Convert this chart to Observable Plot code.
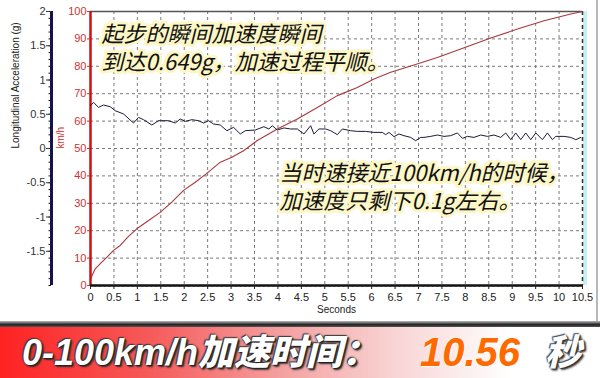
<!DOCTYPE html>
<html><head><meta charset="utf-8">
<script src="https://cdn.jsdelivr.net/npm/d3@7"></script>
<script src="https://cdn.jsdelivr.net/npm/@observablehq/plot@0.6"></script>
<style>
body{margin:0;background:#fff;}
#wrap{position:relative;width:600px;height:378px;overflow:hidden;background:#fff;}
#chart{position:absolute;left:0;top:0;width:600px;height:326px;}
#chart svg{position:absolute;left:0;top:0;}
#rightedge{position:absolute;left:596px;top:0;width:2px;height:324px;background:#b8b8b8;}
#edge{position:absolute;left:0;top:321px;width:600px;height:6px;background:linear-gradient(#bbb,#222 60%,#555);}
#banner{position:absolute;left:0;top:327px;width:600px;height:51px;
 background:linear-gradient(to right,#ff2222 0%,#f65a5a 25%,#f49a9a 45%,#f8d2d2 65%,#ffffff 85%);
 font-family:"Liberation Sans","Noto Sans CJK SC",sans-serif;font-weight:900;font-style:italic;
 line-height:51px;white-space:nowrap;}
#banner .a{position:absolute;left:22px;top:0;font-size:36px;color:#fff;
 text-shadow:0 0 2px #222,1px 1px 1px #222,-1px -1px 1px #444,2px 2px 2px #333;}
#banner .b{position:absolute;left:420px;top:0;font-size:40px;color:#ff6a00;
 text-shadow:0 0 2px #fff,1px 1px 1px #fff;}
#banner .c{position:absolute;left:545px;top:0;font-size:36px;color:#fff;
 text-shadow:0 0 2px #333,1px 1px 1px #333,-1px -1px 1px #555,2px 2px 2px #444;}
</style></head>
<body>
<div id="wrap">
 <div id="chart"></div>
 <div id="rightedge"></div>
 <div id="edge"></div>
 <div id="banner"><span class="a">0-100km/h加速时间：</span><span class="b">10.56</span><span class="c">秒</span></div>
</div>
<script>
// ---- data ----
const accTime = [0,0.064,0.171,0.278,0.421,0.527,0.705,0.918,1.025,1.132,1.309,1.452,1.666,1.809,1.915,2.022,2.163,2.306,2.413,2.519,2.626,2.770,2.911,3.054,3.197,3.303,3.517,3.701,3.807,3.880,3.987,4.128,4.271,4.414,4.555,4.698,4.768,4.875,5.018,5.125,5.268,5.375,5.552,5.695,5.872,6.050,6.229,6.299,6.370,6.477,6.583,6.690,6.833,6.940,7.047,7.117,7.260,7.403,7.544,7.687,7.830,7.937,8.044,8.185,8.328,8.471,8.612,8.755,8.862,8.969,9.075,9.182,9.289,9.396,9.503,9.645,9.752,9.859,9.930,10.107,10.250,10.357,10.463];
const accG = [0.625,0.673,0.600,0.635,0.610,0.552,0.504,0.372,0.454,0.421,0.343,0.406,0.406,0.372,0.431,0.396,0.421,0.406,0.372,0.406,0.358,0.343,0.260,0.308,0.212,0.260,0.270,0.318,0.285,0.333,0.270,0.300,0.285,0.285,0.212,0.333,0.212,0.285,0.285,0.260,0.202,0.285,0.260,0.250,0.250,0.235,0.235,0.202,0.235,0.173,0.212,0.187,0.162,0.114,0.162,0.162,0.177,0.197,0.177,0.187,0.227,0.148,0.177,0.162,0.197,0.177,0.197,0.162,0.227,0.129,0.227,0.129,0.227,0.129,0.227,0.129,0.227,0.129,0.177,0.177,0.162,0.129,0.162];
const spdTime = [0,0.100,0.241,0.348,0.491,0.634,0.811,0.989,1.239,1.488,1.736,1.986,2.236,2.483,2.770,3.017,3.267,3.560,3.987,4.414,4.841,5.268,5.695,6.050,6.406,6.904,7.403,7.901,8.542,9.112,9.680,10.250,10.500];
const spdKmh = [2.4,6.1,8.5,10.3,12.8,14.6,17.9,20.7,23.7,26.7,30.4,34.7,37.7,40.9,45.0,46.8,49.2,52.9,57.1,60.8,65.0,69.3,72.3,75.4,77.8,80.5,83.2,86.3,90.3,93.6,96.6,99.1,100];
const xTicks = [0,0.5,1,1.5,2,2.5,3,3.5,4,4.5,5,5.5,6,6.5,7,7.5,8,8.5,9,9.5,10,10.5];
const speedTicks = [0,10,20,30,40,50,60,70,80,90,100];
const accTicks = [2,1.5,1,0.5,0,-0.5,-1,-1.5];
const note1 = "起步的瞬间加速度瞬间\n到达0.649g，加速过程平顺。";
const note2 = "当时速接近100km/h的时候，\n加速度只剩下0.1g左右。";
const accLabel = "Longitudinal Acceleration (g)";
const speedLabel = "km/h";
const xLabel = "Seconds";

const acc = accTime.map((t,i)=>({t, g:accG[i]}));
const speed = spdTime.map((t,i)=>({t, v:spdKmh[i]}));
const gridT = xTicks.filter(d=>d>0 && d<10.5);
const gridV = speedTicks.filter(d=>d>0 && d<100);
const minorAcc = d3.range(-2,2.0001,0.1).map(d=>+d.toFixed(1));
const minorT = d3.range(0,10.5001,0.1).map(d=>+d.toFixed(1));
const fmt = d => String(d);

const font = "'Liberation Sans', Arial, sans-serif";
const common = {width:600,height:326,marginLeft:90,marginRight:18,marginTop:11,marginBottom:41};

const speedPlot = Plot.plot({
  ...common,
  x:{domain:[0,10.5]},
  style:{background:"transparent",fontFamily:font,fontSize:"11px",overflow:"visible"},
  y:{domain:[0,100]},
  marks:[
    Plot.ruleX(gridT,{stroke:"#7a7a7a",strokeDasharray:"3,3"}),
    Plot.ruleY(gridV,{stroke:"#7a7a7a",strokeDasharray:"3,3"}),
    Plot.ruleX([10.5],{dx:2.5,stroke:"#c6f0f5",strokeWidth:4}),
    Plot.ruleX([10.5],{stroke:"#333",strokeDasharray:"4,3",strokeWidth:1.5}),
    Plot.ruleY([100],{stroke:"#555",strokeWidth:1.5}),
    Plot.line(speed,{x:"t",y:"v",stroke:"#a8383c",strokeWidth:1.1}),
    Plot.axisY(speedTicks,{anchor:"left",color:"#cc3333",tickSize:3,tickPadding:1,label:null,tickFormat:fmt}),
    Plot.ruleX([0],{stroke:"#cc1111",strokeWidth:2.5}),
    Plot.ruleY([0],{stroke:"#111",strokeWidth:2.5}),
    Plot.axisX(minorT,{anchor:"bottom",tickSize:2,tickFormat:()=>"",label:null,color:"#222"}),
    Plot.axisX(xTicks,{anchor:"bottom",tickSize:4,tickPadding:4,label:null,color:"#222",tickFormat:fmt}),
    Plot.text([speedLabel],{frameAnchor:"left",rotate:-90,dx:-30,fill:"#cc3333",fontSize:10}),
    Plot.text([xLabel],{frameAnchor:"bottom",dy:27,fill:"#222",fontSize:10})
  ]
});

const accPlot = Plot.plot({
  ...common,
  x:{domain:[0,10.5],axis:null},
  style:{background:"transparent",fontFamily:font,fontSize:"11px",overflow:"visible"},
  y:{domain:[-2,2]},
  marks:[
    Plot.line(acc,{x:"t",y:"g",stroke:"#1c1c38",strokeWidth:1}),
    Plot.ruleX([0],{dx:-39,stroke:"#14144a",strokeWidth:3}),
    Plot.axisY(minorAcc,{anchor:"left",dx:-39,tickSize:2.5,tickFormat:()=>"",label:null,color:"#14144a"}),
    Plot.axisY(accTicks,{anchor:"left",dx:-39,tickSize:5,tickPadding:1,label:null,color:"#333",tickFormat:fmt}),
    Plot.text([accLabel],{frameAnchor:"left",rotate:-90,dx:-75,fill:"#222",fontSize:10}),
    Plot.text([note1],{frameAnchor:"top-left",textAnchor:"start",lineAnchor:"top",dx:11,dy:10,lineHeight:1.3,
      fontSize:22,fontStyle:"italic",fontFamily:"'Noto Sans CJK SC', sans-serif",fill:"#111",
      stroke:"#fdf7c6",strokeWidth:6,strokeLinejoin:"round",paintOrder:"stroke"}),
    Plot.text([note2],{frameAnchor:"top-left",textAnchor:"start",lineAnchor:"top",dx:189,dy:149,lineHeight:1.3,
      fontSize:22,fontStyle:"italic",fontFamily:"'Noto Sans CJK SC', sans-serif",fill:"#111",
      stroke:"#fdf7c6",strokeWidth:6,strokeLinejoin:"round",paintOrder:"stroke"})
  ]
});

const chart = document.getElementById("chart");
chart.appendChild(speedPlot);
chart.appendChild(accPlot);
</script>
</body></html>
